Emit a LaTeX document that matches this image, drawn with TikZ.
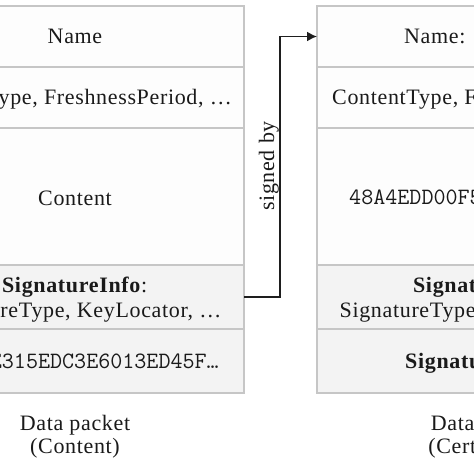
\documentclass[tikz,border=0pt]{standalone}
\usepackage{fontspec}
\setmainfont{Liberation Serif}
\usetikzlibrary{arrows.meta}
\definecolor{bordergray}{HTML}{C6C6C6}
\definecolor{lightrow}{HTML}{F3F3F3}
\definecolor{toprow}{HTML}{FDFDFD}
\definecolor{arrowdark}{HTML}{1E1E1E}
\definecolor{textdark}{HTML}{1A1A1A}
\begin{document}
\begin{tikzpicture}[x=1pt,y=-1pt,
  cell/.style={draw=bordergray, line width=1.2pt, minimum width=338pt, inner sep=0pt, outer sep=0pt},
  upper/.style={cell, fill=toprow},
  lower/.style={cell, fill=lightrow},
  txt/.style={font=\fontsize{22}{25}\selectfont\addfontfeature{LetterSpace=3}, text=textdark, inner sep=0pt},
  btxt/.style={font=\fontsize{22}{25}\selectfont\bfseries\addfontfeature{LetterSpace=3}, text=textdark, inner sep=0pt},
  hex/.style={font=\fontsize{23.4}{26}\selectfont\ttfamily, text=textdark, inner sep=0pt},
  arr/.style={draw=arrowdark, line width=1.6pt, -{Latex[length=10pt,width=10pt]}}
]
\useasboundingbox (0,0) rectangle (474,474);
\clip (0,0) rectangle (474,474);
\fill[white] (0,0) rectangle (474,474);

% left packet
\node[upper, minimum height=61pt]  (lname) at (75,36.5) {};
\node[upper, minimum height=61pt]  (lmeta) at (75,97.5) {};
\node[upper, minimum height=137pt] (lcont) at (75,196.5) {};
\node[lower, minimum height=64pt]  (lsig)  at (75,297) {};
\node[lower, minimum height=64pt]  (lval)  at (75,361) {};

\node[txt, anchor=base] (lnametxt) at (75,43) {Name};
\node[txt, anchor=base east] (lmetatxt) at (232,104) {ContentType, FreshnessPeriod, …};
\node[txt, anchor=base] (lconttxt) at (75,205) {Content};
\node[btxt, anchor=base] (lsigtxt) at (75,292) {SignatureInfo\textmd{:}};
\node[txt, anchor=base] (lsigtxt2) at (75,317) {SignatureType, KeyLocator, …};
\node[hex, anchor=base east] (lvaltxt) at (219,368) {A7C2E315EDC3E6013ED45F…};
\node[txt, anchor=base] (lcap1) at (75,430) {Data packet};
\node[txt, anchor=base] (lcap2) at (75,453) {(Content)};

% right packet
\node[upper, minimum height=61pt]  (rname) at (486,36.5) {};
\node[upper, minimum height=61pt]  (rmeta) at (486,97.5) {};
\node[upper, minimum height=137pt] (rcont) at (486,196.5) {};
\node[lower, minimum height=64pt]  (rsig)  at (486,297) {};
\node[lower, minimum height=64pt]  (rval)  at (486,361) {};

\node[txt, anchor=base west] (rnametxt) at (404,43) {Name: …/KEY/…};
\node[txt, anchor=base west] (rmetatxt) at (332,104) {ContentType, FreshnessPeriod, …};
\node[hex, anchor=base west] (rconttxt) at (349,204) {48A4EDD00F5C9E21B7A3…};
\node[btxt, anchor=base] (rsigtxt) at (486,292) {SignatureInfo\textmd{:}};
\node[txt, anchor=base] (rsigtxt2) at (486,317) {SignatureType, KeyLocator, …};
\node[btxt, anchor=base west] (rvaltxt) at (405,368) {SignatureValue};
\node[txt, anchor=base] (rcap1) at (486,430) {Data packet};
\node[txt, anchor=base] (rcap2) at (486,453) {(Certificate)};

% connector
\draw[arr] (lsig.east) -- ++(36,0) |- (rname.west);
\node[txt, rotate=90, anchor=base] (signedby) at (274,166) {signed by};
\end{tikzpicture}
\end{document}
